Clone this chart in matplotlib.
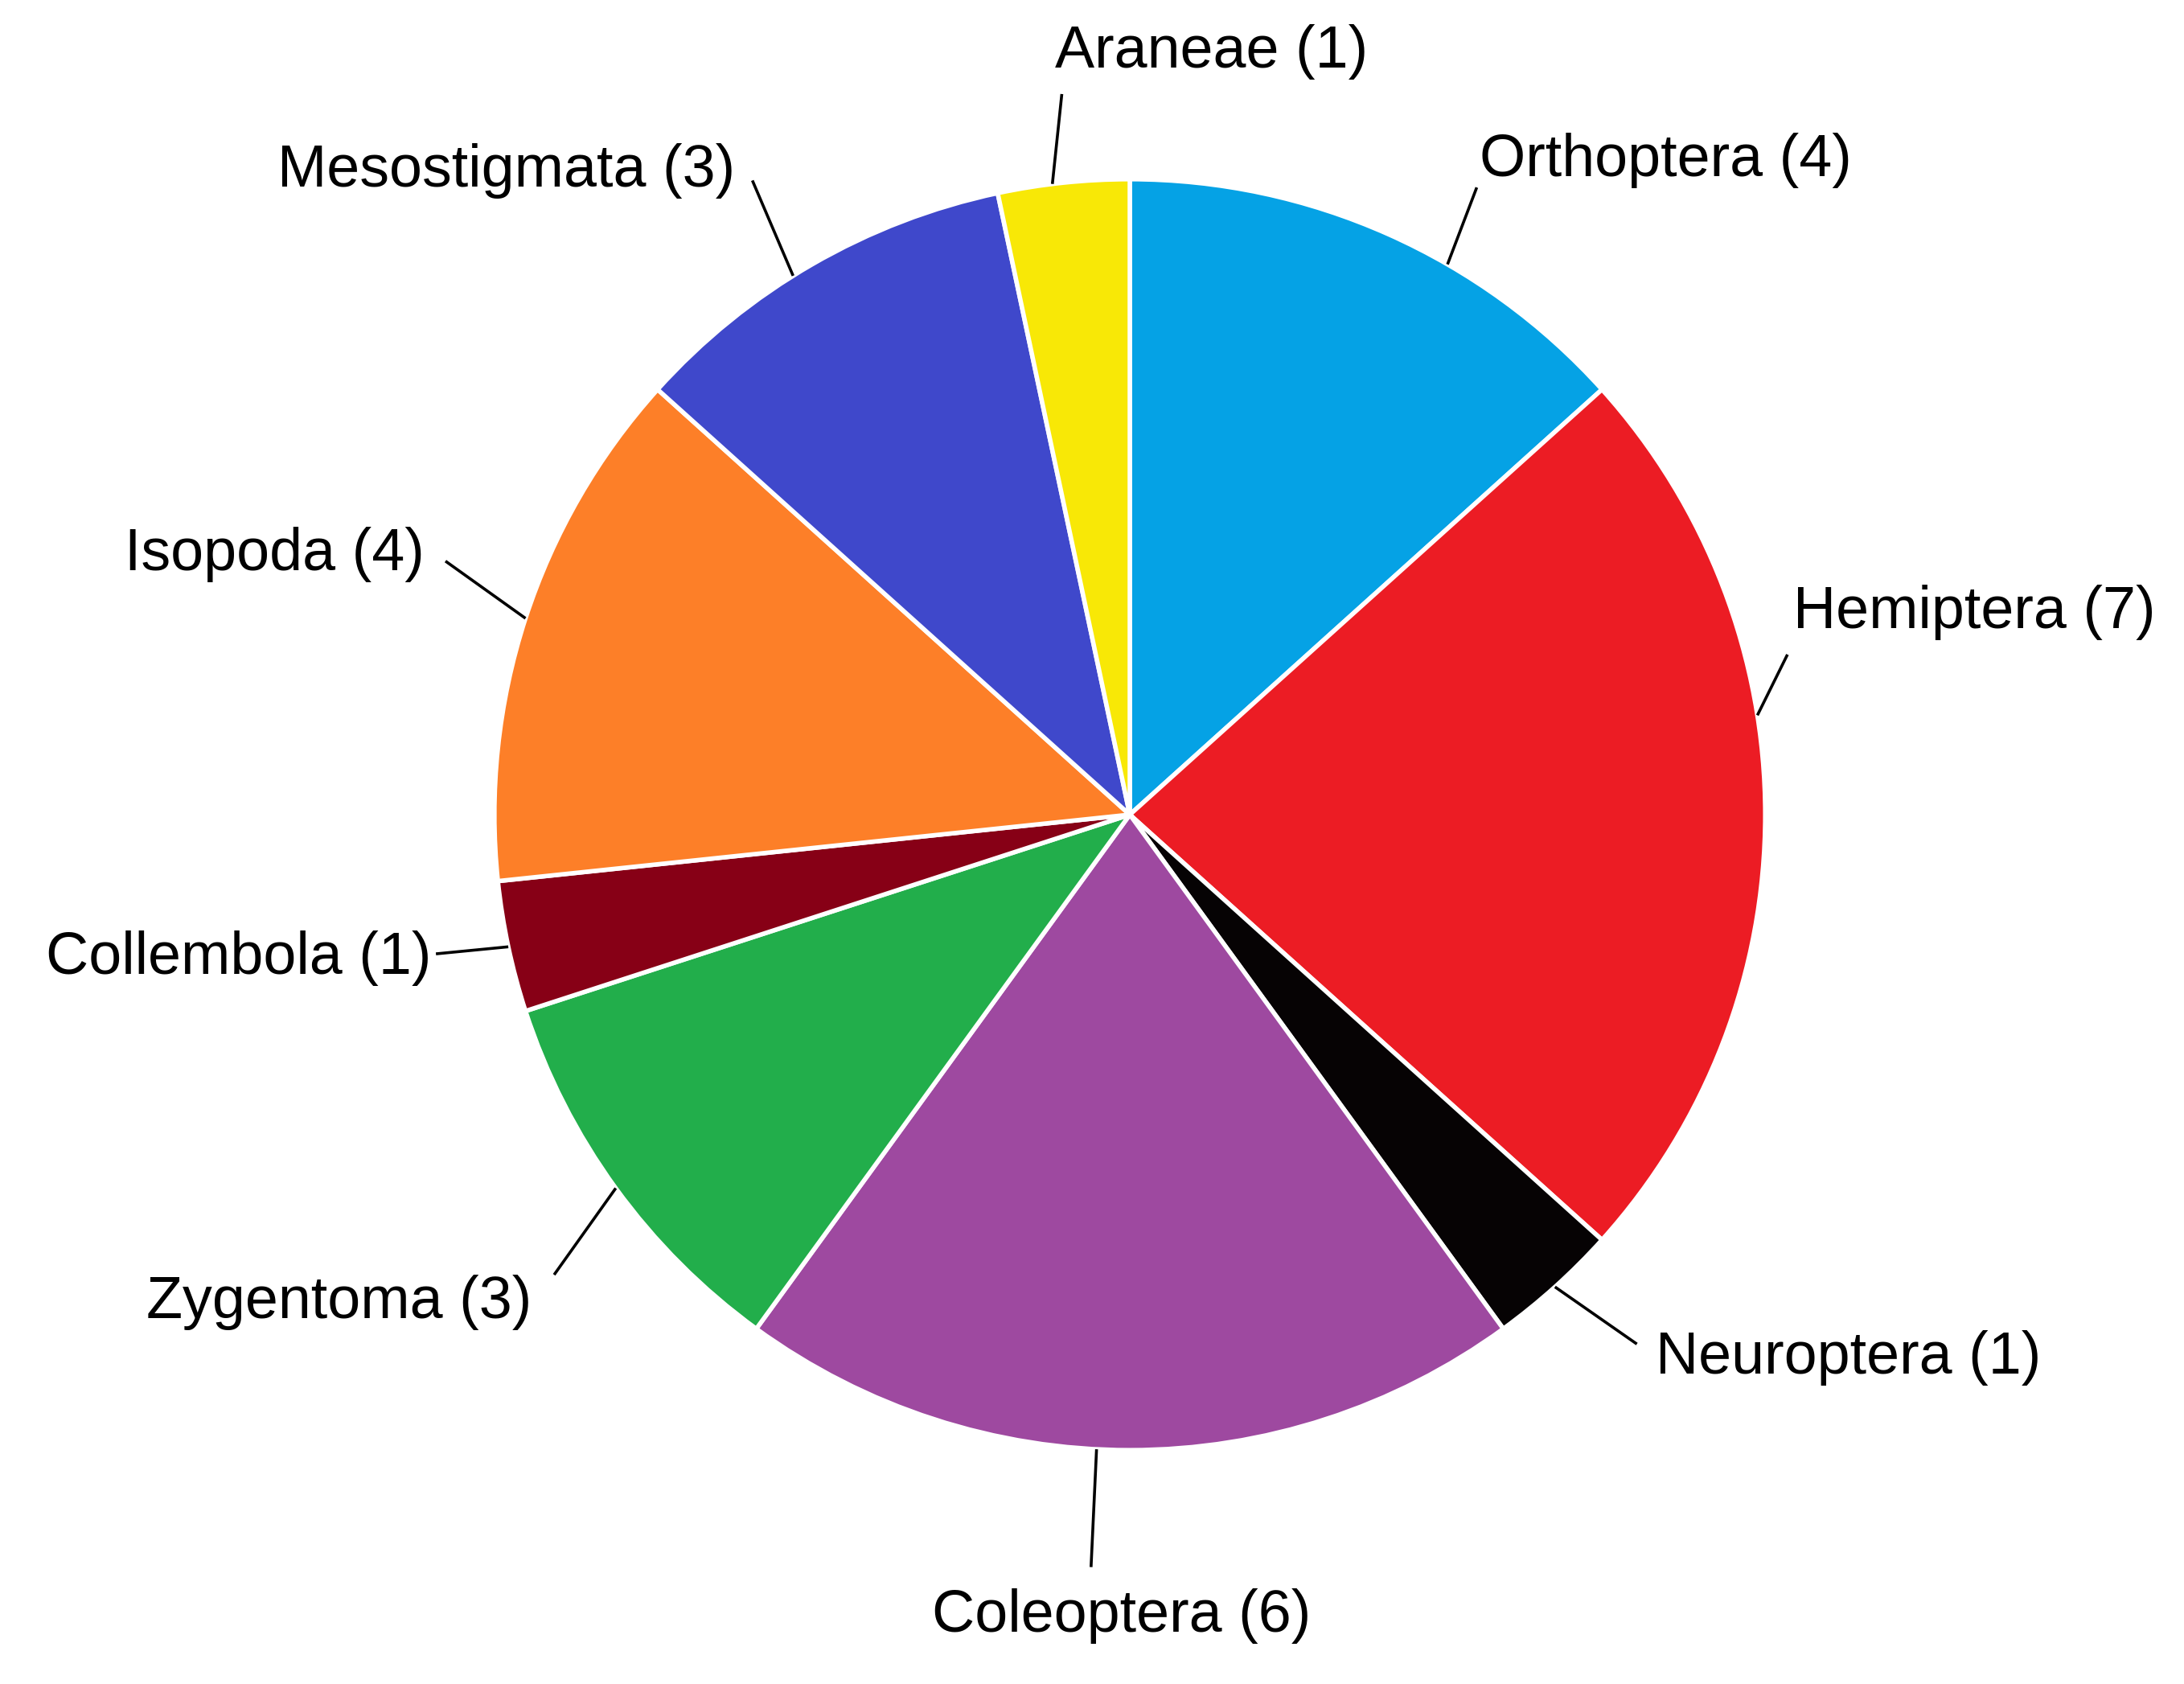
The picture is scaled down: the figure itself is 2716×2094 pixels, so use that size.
import numpy as np
import matplotlib
matplotlib.use('Agg')
import matplotlib.pyplot as plt

# Counts per order, clockwise from 12 o'clock
orders = ['Orthoptera', 'Hemiptera', 'Neuroptera', 'Coleoptera', 'Zygentoma',
          'Collembola', 'Isopoda', 'Mesostigmata', 'Araneae']
counts = [4, 7, 1, 6, 3, 1, 4, 3, 1]
colors = ['#05A2E5', '#EC1C24', '#060304', '#9E49A0', '#22AE4B',
          '#870016', '#FD7F28', '#3F48CB', '#F8E806']

# Label layout (data units, pie radius = 1): leader-line angle shift, line end, text anchor
angle_shift = [-6, 9, 0, -3, 0, 0, 0, 2, 1]
line_end = [(0.546, 0.987), (1.035, 0.252), (0.798, -0.833), (-0.061, -1.184),
            (-0.906, -0.724), (-1.092, -0.219), (-1.077, 0.399), (-0.594, 0.998),
            (-0.107, 1.134)]
text_pos = [(0.550, 1.030), (1.044, 0.318), (0.827, -0.855), (-0.013, -1.261),
            (-0.941, -0.768), (-1.099, -0.226), (-1.110, 0.410), (-0.621, 1.013),
            (-0.118, 1.200)]
text_ha = ['left', 'left', 'left', 'center', 'right', 'right', 'right', 'right', 'left']

plt.rcParams['font.family'] = ['Liberation Sans', 'DejaVu Sans']

fig = plt.figure(figsize=(27.16, 20.94), dpi=100)
ax = fig.add_axes([0, 0, 1, 1])

wedges, _ = ax.pie(counts, colors=colors, startangle=90, counterclock=False,
                   radius=1.0, wedgeprops=dict(edgecolor='white', linewidth=4))

for w, name, n, shift, (lx, ly), (tx, ty), ha in zip(
        wedges, orders, counts, angle_shift, line_end, text_pos, text_ha):
    mid = np.deg2rad((w.theta1 + w.theta2) / 2 + shift)
    ax.plot([np.cos(mid), lx], [np.sin(mid), ly], color='black', lw=2.6,
            solid_capstyle='butt')
    ax.text(tx, ty, f'{name} ({n})', ha=ha, va='center', fontsize=53,
            color='black')

ax.set_xlim(-1.778, 1.659)
ax.set_ylim(-1.368, 1.282)
ax.set_aspect('equal')
ax.axis('off')

fig.savefig('out.png', dpi=100, facecolor='white')
